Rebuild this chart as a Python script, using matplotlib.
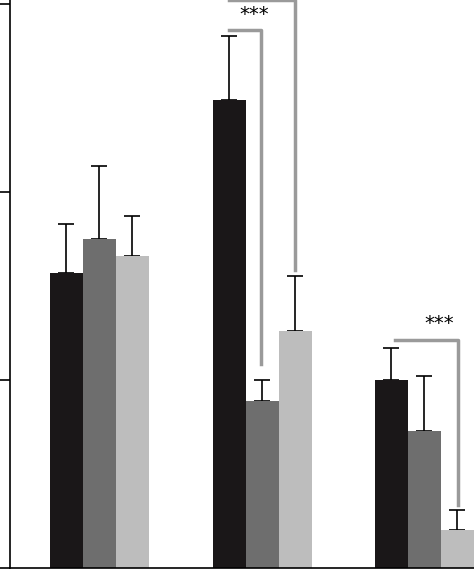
import matplotlib
matplotlib.use("Agg")
import matplotlib.pyplot as plt
import numpy as np

groups = ["A", "B", "C"]
black = [1.57, 2.49, 1.00]
black_err = [0.26, 0.34, 0.17]
dark = [1.75, 0.89, 0.73]
dark_err = [0.39, 0.11, 0.29]
light = [1.66, 1.26, 0.20]
light_err = [0.21, 0.29, 0.11]

fig = plt.figure(figsize=(4.74, 5.77), dpi=100)
ax = fig.add_axes([10/474, 9/577, 464/474, 568/577])
starts = np.array([1.2, 6.15, 11.06])
w = 1.0
cols = ["#1a1718", "#6e6e6e", "#bdbdbd"]
for k, (v, e) in enumerate([(black, black_err), (dark, dark_err), (light, light_err)]):
    x = starts + w*k + w/2
    ax.bar(x, v, width=w, color=cols[k], edgecolor="none", zorder=2)
    ax.errorbar(x, v, yerr=[np.zeros(3), e], fmt="none", ecolor="black",
                elinewidth=1.2, capsize=6, capthick=1.2, zorder=1)

g = "#9a9a9a"
ax.plot([6.65, 7.6, 7.6], [2.86, 2.86, 1.085], color=g, lw=2.5, zorder=3)
ax.plot([6.65, 8.64, 8.64], [3.02, 3.02, 1.585], color=g, lw=2.5, zorder=3, clip_on=False)
ax.plot([11.67, 13.58, 13.58], [1.213, 1.213, 0.335], color=g, lw=2.5, zorder=3)
ax.text(7.4, 2.89, "***", ha="center", va="bottom", fontsize=14)
ax.text(13.0, 1.25, "***", ha="center", va="bottom", fontsize=14)

ax.set_xlim(0, 14.06)
ax.set_ylim(0, 3.02)
ax.set_yticks([0, 1, 2, 3])
ax.set_yticklabels([])
ax.set_xticks([])
ax.tick_params(axis="y", direction="out", length=9, width=1.2)
for s in ["top", "right"]:
    ax.spines[s].set_visible(False)
ax.spines["left"].set_linewidth(1.2)
ax.spines["bottom"].set_linewidth(1.2)
fig.savefig("out.png", dpi=100)
